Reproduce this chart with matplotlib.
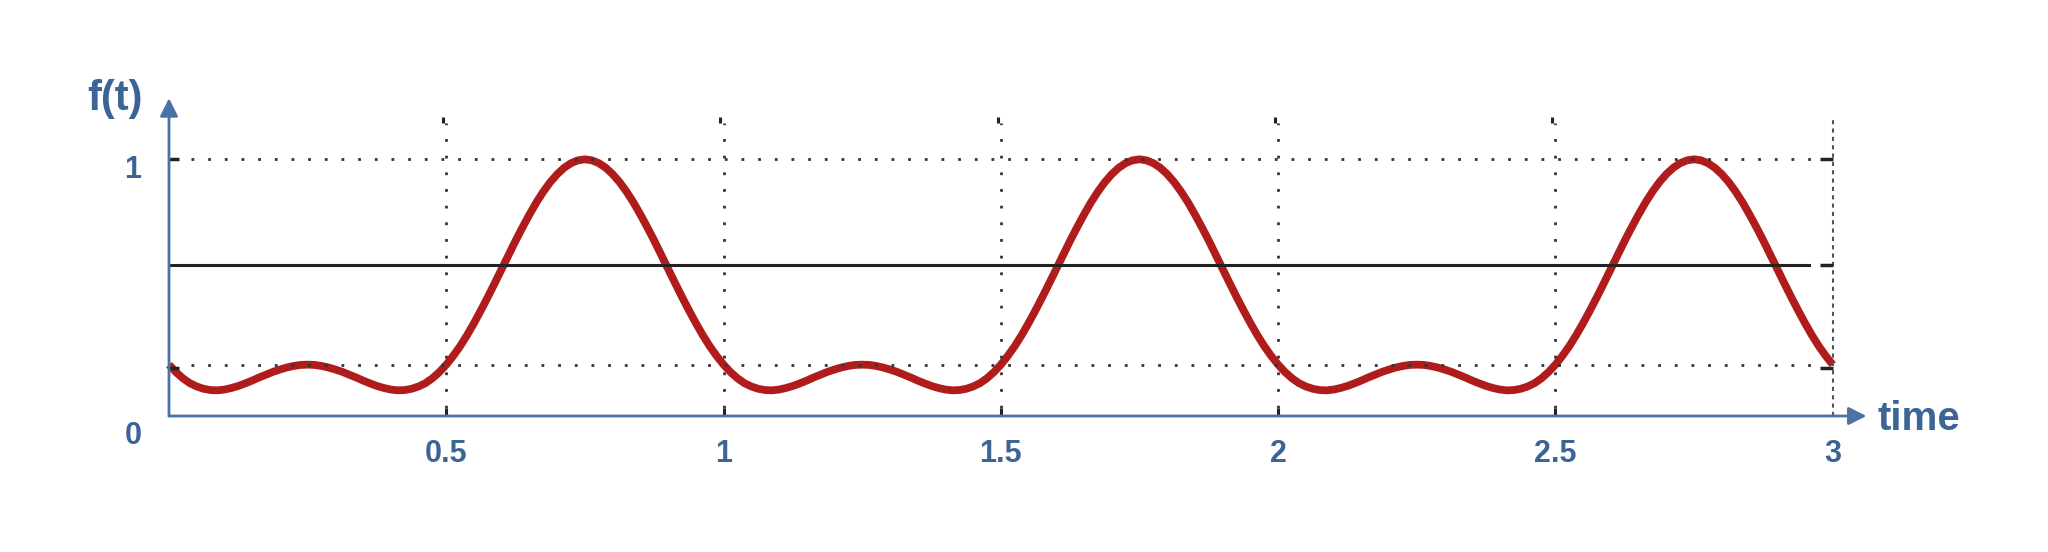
import numpy as np
import matplotlib
matplotlib.use("Agg")
import matplotlib.pyplot as plt

# ---- data (samples every 1/80 of a time unit) ----
f_values = [
    # period 1
    0.200, 0.171, 0.147, 0.128, 0.115, 0.106, 0.101, 0.100, 0.103, 0.109,
    0.117, 0.127, 0.138, 0.150, 0.161, 0.172, 0.181, 0.189, 0.195, 0.199,
    0.200, 0.199, 0.195, 0.189, 0.181, 0.172, 0.161, 0.150, 0.138, 0.127,
    0.117, 0.109, 0.103, 0.100, 0.101, 0.106, 0.115, 0.128, 0.147, 0.171,
    0.200, 0.234, 0.272, 0.315, 0.362, 0.412, 0.464, 0.518, 0.573, 0.628,
    0.683, 0.735, 0.785, 0.832, 0.874, 0.911, 0.942, 0.967, 0.985, 0.996,
    1.000, 0.996, 0.985, 0.967, 0.942, 0.911, 0.874, 0.832, 0.785, 0.735,
    0.683, 0.628, 0.573, 0.518, 0.464, 0.412, 0.362, 0.315, 0.272, 0.234,
    # period 2
    0.200, 0.171, 0.147, 0.128, 0.115, 0.106, 0.101, 0.100, 0.103, 0.109,
    0.117, 0.127, 0.138, 0.150, 0.161, 0.172, 0.181, 0.189, 0.195, 0.199,
    0.200, 0.199, 0.195, 0.189, 0.181, 0.172, 0.161, 0.150, 0.138, 0.127,
    0.117, 0.109, 0.103, 0.100, 0.101, 0.106, 0.115, 0.128, 0.147, 0.171,
    0.200, 0.234, 0.272, 0.315, 0.362, 0.412, 0.464, 0.518, 0.573, 0.628,
    0.683, 0.735, 0.785, 0.832, 0.874, 0.911, 0.942, 0.967, 0.985, 0.996,
    1.000, 0.996, 0.985, 0.967, 0.942, 0.911, 0.874, 0.832, 0.785, 0.735,
    0.683, 0.628, 0.573, 0.518, 0.464, 0.412, 0.362, 0.315, 0.272, 0.234,
    # period 3
    0.200, 0.171, 0.147, 0.128, 0.115, 0.106, 0.101, 0.100, 0.103, 0.109,
    0.117, 0.127, 0.138, 0.150, 0.161, 0.172, 0.181, 0.189, 0.195, 0.199,
    0.200, 0.199, 0.195, 0.189, 0.181, 0.172, 0.161, 0.150, 0.138, 0.127,
    0.117, 0.109, 0.103, 0.100, 0.101, 0.106, 0.115, 0.128, 0.147, 0.171,
    0.200, 0.234, 0.272, 0.315, 0.362, 0.412, 0.464, 0.518, 0.573, 0.628,
    0.683, 0.735, 0.785, 0.832, 0.874, 0.911, 0.942, 0.967, 0.985, 0.996,
    1.000, 0.996, 0.985, 0.967, 0.942, 0.911, 0.874, 0.832, 0.785, 0.735,
    0.683, 0.628, 0.573, 0.518, 0.464, 0.412, 0.362, 0.315, 0.272, 0.234,
    0.200,
]
time_s = np.linspace(0.0, 3.0, len(f_values))

grid_times = [0.5, 1.0, 1.5, 2.0, 2.5]
grid_levels = [1.0, 0.2]
mean_level = 0.59
x_ticks = [0.5, 1.0, 1.5, 2.0, 2.5, 3.0]
x_tick_labels = ["0.5", "1", "1.5", "2", "2.5", "3"]

BLUE = "#3c6595"
AXIS_BLUE = "#4a72a6"
RED = "#b01c1c"
DOT = "#333333"
DARK = "#222222"

plt.rcParams["font.family"] = ["Liberation Sans", "DejaVu Sans"]

fig = plt.figure(figsize=(20.48, 5.52), dpi=100)
ax = fig.add_axes([169 / 2048, 136 / 552, 1663.7 / 2048, 256.7 / 552])
ax.set_xlim(0, 3)
ax.set_ylim(0, 1)
ax.axis("off")

# red curve
ax.plot(time_s, f_values, color=RED, lw=5.6, zorder=3, clip_on=False,
        solid_joinstyle="round", solid_capstyle="butt")

# mean line
ax.plot([0, 2.958], [mean_level, mean_level], color=DARK, lw=2.2, zorder=4,
        clip_on=False)

# horizontal dotted lines
for lv in grid_levels:
    ax.plot([0.04, 2.97], [lv, lv], color=DOT, lw=2, ls=(0, (1, 5)),
            zorder=4, clip_on=False)

# vertical dotted lines with small marks
for gt in grid_times:
    ax.plot([gt, gt], [0.03, 1.14], color=DOT, lw=2, ls=(0, (1, 5)),
            zorder=4, clip_on=False)
    ax.plot([gt - 0.006, gt - 0.006], [1.14, 1.163], color=DARK, lw=2.2,
            zorder=4, clip_on=False, solid_capstyle="butt")
    ax.plot([gt, gt], [0.0, 0.03], color=DARK, lw=2.2, zorder=4,
            clip_on=False, solid_capstyle="butt")

# dashed line at t = 3
ax.plot([3.0, 3.0], [0.0, 1.165], color="#555555", lw=1.5, ls=(0, (2, 2)),
        zorder=4, clip_on=False)

# end marks
for lv in [1.0, 0.186]:
    ax.plot([0.0, 0.018], [lv, lv], color=DARK, lw=2.5, zorder=4,
            clip_on=False, solid_capstyle="butt")
for lv in [1.0, mean_level, 0.186]:
    ax.plot([2.977, 3.0], [lv, lv], color=DARK, lw=2.5, zorder=4,
            clip_on=False, solid_capstyle="butt")

# axes with arrows
arrow_kw = dict(arrowstyle="-|>,head_length=0.6,head_width=0.3",
                color=AXIS_BLUE, lw=2, mutation_scale=18,
                shrinkA=0, shrinkB=0)
ax.annotate("", xy=(0, 1.238), xytext=(0, 0), arrowprops=arrow_kw,
            annotation_clip=False, zorder=5)
ax.annotate("", xy=(3.061, 0), xytext=(0, 0), arrowprops=arrow_kw,
            annotation_clip=False, zorder=5)

# labels
ax.text(-0.147, 1.194, "f(t)", fontsize=30, fontweight="bold", color=BLUE,
        ha="left", va="baseline")
ax.text(3.081, -0.0545, "time", fontsize=29, fontweight="bold", color=BLUE,
        ha="left", va="baseline")
for t, lab in zip(x_ticks, x_tick_labels):
    ax.text(t, -0.178, lab, fontsize=22, fontweight="bold", color=BLUE,
            ha="center", va="baseline")
ax.text(-0.0655, 0.926, "1", fontsize=22, fontweight="bold", color=BLUE,
        ha="center", va="baseline")
ax.text(-0.0638, -0.109, "0", fontsize=22, fontweight="bold", color=BLUE,
        ha="center", va="baseline")

fig.savefig("out.png", dpi=100, facecolor="white")
